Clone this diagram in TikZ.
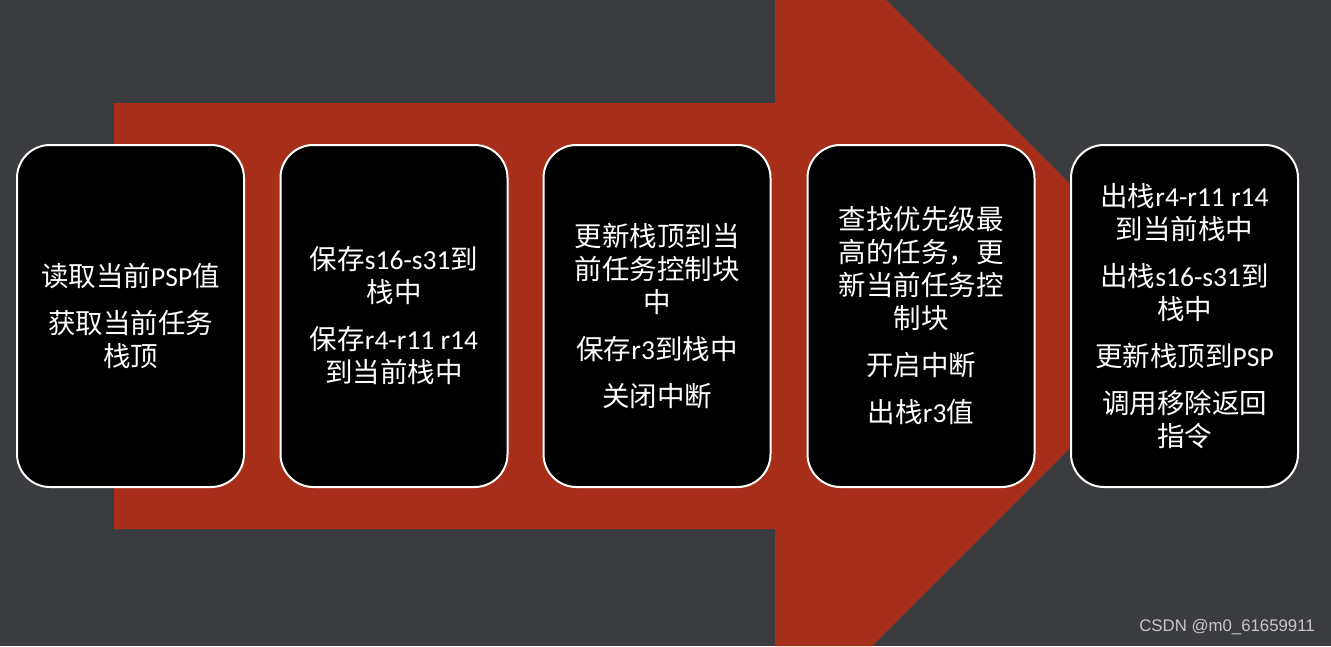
\documentclass[tikz,border=0pt]{standalone}
\usepackage{fontspec}
\setmainfont{Noto Sans CJK SC}
\newfontfamily\lat{Carlito}
\newfontfamily\wmfont{Liberation Sans}
\usepackage{xcolor}
\definecolor{bgcol}{HTML}{3B3C40}
\definecolor{arrowred}{HTML}{A72F1A}
\definecolor{wmgray}{HTML}{C8C8C8}

\begin{document}
\begin{tikzpicture}[x=1pt,y=1pt,yscale=-1,
    stepbox/.style={draw=white, line width=2pt, fill=black, rounded corners=33pt,
        minimum width=227pt, minimum height=342pt, inner sep=0pt,
        align=center, text=white, font=\fontsize{27.5}{33}\selectfont}]

    \useasboundingbox (0,0) rectangle (1331,646);
    \fill [bgcol] (0,0) rectangle (1331,646);
    \fill [arrowred] (114,103) -- (775,103) -- (775,0) -- (886,0) -- (1202,316)
        -- (872,646) -- (775,646) -- (775,529) -- (114,529) -- cycle;

    \draw (130.5,316) node [stepbox] (s1) {读取当前{\lat PSP}值\\[14pt]获取当前任务\\栈顶};
    \draw (394,316)   node [stepbox] (s2) {保存{\lat s16-s31}到\\栈中\\[14pt]保存{\lat r4-r11 r14}\\到当前栈中};
    \draw (657,316)   node [stepbox] (s3) {更新栈顶到当\\前任务控制块\\中\\[14pt]保存{\lat r3}到栈中\\[14pt]关闭中断};
    \draw (921,316)   node [stepbox] (s4) {查找优先级最\\高的任务，更\\新当前任务控\\制块\\[14pt]开启中断\\[14pt]出栈{\lat r3}值};
    \draw (1184.5,316) node [stepbox] (s5) {出栈{\lat r4-r11 r14}\\到当前栈中\\[14pt]出栈{\lat s16-s31}到\\栈中\\[14pt]更新栈顶到{\lat PSP}\\[14pt]调用移除返回\\指令};
    \draw (1315,627) node [anchor=east, inner sep=0pt, text=wmgray, font=\wmfont\fontsize{16.8}{19}\selectfont] (wm) {CSDN @m0\_61659911};

\end{tikzpicture}
\end{document}
